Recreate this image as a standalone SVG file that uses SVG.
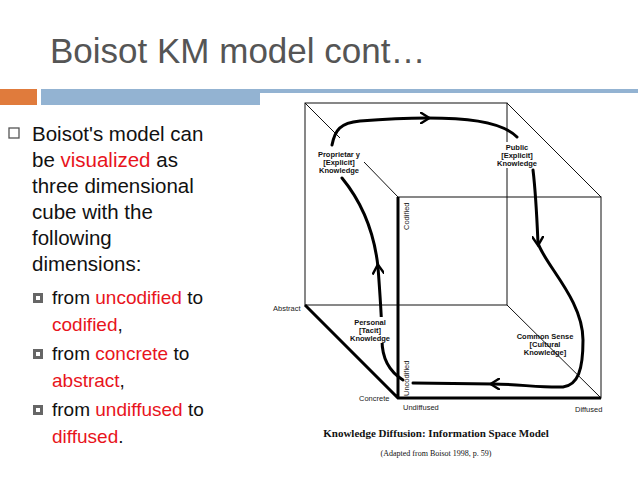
<svg xmlns="http://www.w3.org/2000/svg" width="638" height="478" viewBox="0 0 638 478">
<style>
.t{font-family:"Liberation Sans",Arial,sans-serif}
.l{font-family:"Liberation Sans",Arial,sans-serif;font-size:7.5px;fill:#222}
.b{font-family:"Liberation Sans",Arial,sans-serif;font-size:7.5px;font-weight:bold;fill:#111}
.e{stroke:#111;stroke-width:1;fill:none}
.k{stroke:#000;stroke-width:3;fill:none}
.c{stroke:#000;stroke-width:3;fill:none;stroke-linecap:round}
.r{fill:#e8141c}
.w{fill:#fff}
</style>
<defs>
<marker id="a" viewBox="0 0 10 10" refX="6" refY="5" markerWidth="4" markerHeight="4" orient="auto"><path d="M0,0L8,5L0,10" fill="none" stroke="#000" stroke-width="2"/></marker>
</defs>
<rect width="638" height="478" fill="#fff"/>
<text x="50" y="63" class="t" font-size="35" fill="#555">Boisot KM model cont…</text>
<rect x="0" y="89" width="37" height="16" fill="#e07b3c"/>
<rect x="41" y="89" width="219" height="16" fill="#93b3d2"/>
<rect x="260" y="89" width="378" height="4" fill="#93b3d2"/>
<g class="t" font-size="20.5" fill="#111">
<rect x="9" y="128" width="10" height="10" fill="none" stroke="#555" stroke-width="1.3"/>
<text x="32" y="141">Boisot's model can</text>
<text x="32" y="167">be <tspan class="r">visualized</tspan> as</text>
<text x="32" y="193">three dimensional</text>
<text x="32" y="219">cube with the</text>
<text x="32" y="245">following</text>
<text x="32" y="271">dimensions:</text>
<g font-size="19">
<rect x="33" y="293" width="10" height="10" fill="#666"/><rect x="36" y="296" width="4" height="4" fill="#fff"/>
<text x="52" y="304">from <tspan class="r">uncodified</tspan> to</text>
<text x="52" y="331" class="r">codified<tspan fill="#111">,</tspan></text>
<rect x="33" y="349" width="10" height="10" fill="#666"/><rect x="36" y="352" width="4" height="4" fill="#fff"/>
<text x="52" y="360">from <tspan class="r">concrete</tspan> to</text>
<text x="52" y="387" class="r">abstract<tspan fill="#111">,</tspan></text>
<rect x="33" y="405" width="10" height="10" fill="#666"/><rect x="36" y="408" width="4" height="4" fill="#fff"/>
<text x="52" y="416">from <tspan class="r">undiffused</tspan> to</text>
<text x="52" y="443" class="r">diffused<tspan fill="#111">.</tspan></text>
</g>
</g>
<g id="cube">
<rect x="305" y="103" width="202" height="202" class="e"/>
<rect x="398" y="197" width="203" height="201" class="e"/>
<path d="M305,103L340,138M364,162L398,197M507,103L601,197M507,305L601,398" class="e"/>
<path d="M305,305L398,398L601,398M398,197V398" class="k"/>
</g>
<g id="labels">
<text x="273" y="311" class="l">Abstract</text>
<text x="359" y="401" class="l">Concrete</text>
<text x="403" y="410" class="l">Undiffused</text>
<text x="575" y="412" class="l">Diffused</text>
<text class="l" transform="translate(409,230) rotate(-90)">Codified</text>
<text class="l" transform="translate(409,396) rotate(-90)">Uncodified</text>
</g>
<g id="connectors">
<path d="M403,380C390,372 382,360 382,340C382,320 380,295 378,267" class="c" marker-end="url(#a)"/>
<path d="M378,267C374,230 360,200 342,178" class="c"/>
<path d="M332,145C335,130 340,123 360,121C385,119 405,118 427,118" class="c" marker-end="url(#a)"/>
<path d="M427,118C460,118 500,120 517,137" class="c"/>
<path d="M533,170C536,195 537,220 538,243" class="c" marker-end="url(#a)"/>
<path d="M538,243C545,265 583,300 583,340C583,370 578,385 563,387C545,388 515,384 493,384" class="c" marker-end="url(#a)"/>
<path d="M493,384L413,383" class="c"/>
</g>
<g id="proprietary"><rect x="317" y="149" width="44" height="26" class="w"/><text class="b" text-anchor="middle"><tspan x="339" y="157">Proprietar y</tspan><tspan x="339" y="165">[Explicit]</tspan><tspan x="339" y="173">Knowledge</tspan></text></g>
<g id="public"><rect x="497" y="142" width="40" height="26" class="w"/><text class="b" text-anchor="middle"><tspan x="517" y="150">Public</tspan><tspan x="517" y="158">[Explicit]</tspan><tspan x="517" y="166">Knowledge</tspan></text></g>
<g id="personal"><rect x="350" y="317" width="40" height="26" class="w"/><text class="b" text-anchor="middle"><tspan x="370" y="325">Personal</tspan><tspan x="370" y="333">[Tacit]</tspan><tspan x="370" y="341">Knowledge</tspan></text></g>
<g id="common"><text class="b" text-anchor="middle"><tspan x="545" y="339">Common Sense</tspan><tspan x="545" y="347">[Cultural</tspan><tspan x="545" y="355">Knowledge]</tspan></text></g>
<g font-family="'Liberation Serif',serif" fill="#111">
<text x="436" y="437" text-anchor="middle" font-size="11" font-weight="bold">Knowledge Diffusion: Information Space Model</text>
<text x="436" y="456" text-anchor="middle" font-size="8">(Adapted from Boisot 1998, p. 59)</text>
</g>
</svg>
